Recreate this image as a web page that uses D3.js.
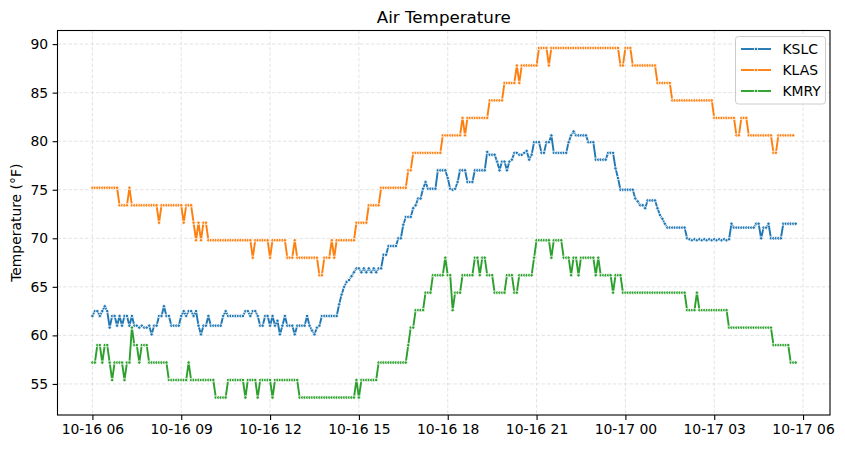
<!DOCTYPE html>
<html><head><meta charset="utf-8">
<script src="https://cdn.jsdelivr.net/npm/d3@7"></script>
<style>body{margin:0;background:#fff;} text{font-family:"DejaVu Sans",sans-serif;}</style>
</head><body><svg id="c" width="845" height="449"></svg>
<script>
// ---- data ----
const seriesNames = ["KSLC", "KLAS", "KMRY"];
const seriesColors = ["#1f77b4", "#ff7f0e", "#2ca02c"];
const startYear = 2024, startMonth = 9, startDay = 16, startHour = 6; // 10-16 06:00
const stepMinutes = 5;
const yTicks = [55, 60, 65, 70, 75, 80, 85, 90];
const xTickHours = [0, 3, 6, 9, 12, 15, 18, 21, 24]; // hours after start

const kslc = [62.0,62.5,62.5,62.0,62.5,63.0,62.5,60.8,62.0,62.0,
61.0,62.0,61.0,62.0,62.0,61.0,62.0,61.0,61.0,60.8,
61.0,60.8,60.8,61.0,60.1,61.0,61.0,62.0,62.0,63.0,
62.0,62.0,61.0,61.0,61.0,61.0,62.0,62.5,62.0,62.5,
62.5,62.0,62.5,61.0,60.1,61.0,61.0,62.0,61.0,61.0,
61.0,61.0,61.0,62.0,62.5,62.0,62.0,62.0,62.0,62.0,
62.0,62.0,62.5,62.5,62.0,62.5,62.5,62.0,61.0,61.0,
62.0,62.0,61.0,62.0,61.0,61.5,60.1,61.0,62.0,61.0,
61.0,61.0,60.1,61.0,61.0,61.0,61.0,62.0,61.0,60.5,
60.1,60.8,61.0,62.0,62.0,62.0,62.0,62.0,62.0,62.0,
63.2,64.2,65.0,65.5,65.7,66.1,66.5,66.9,66.9,66.5,
66.9,66.5,66.9,66.5,66.9,66.5,66.9,66.9,68.3,68.3,
69.2,69.2,69.2,69.2,70.0,70.0,71.4,72.2,72.2,72.2,
73.1,73.4,74.1,74.1,75.1,75.8,75.1,75.1,75.1,75.1,
77.0,77.0,77.0,77.0,76.2,75.1,75.0,75.1,75.8,77.0,
77.0,77.0,75.8,75.8,75.8,77.0,77.0,77.0,77.0,77.0,
78.9,78.6,78.6,78.6,77.9,77.0,77.9,77.9,77.0,77.9,
78.1,78.8,78.8,78.6,78.6,78.8,79.0,78.1,78.6,79.9,
79.9,79.9,78.8,78.8,79.9,79.9,80.6,78.8,78.8,78.8,
78.8,78.8,78.8,79.9,80.6,81.0,80.6,80.6,80.6,80.6,
80.6,79.9,79.9,79.9,78.1,78.1,78.1,78.1,78.1,78.8,
78.8,78.8,77.2,76.2,75.0,75.0,75.0,75.0,75.0,75.0,
74.1,73.8,73.4,73.4,73.1,73.9,73.9,73.9,73.9,73.1,
72.4,72.0,71.5,71.1,71.1,71.1,71.1,71.1,71.1,71.1,
71.1,70.0,69.9,69.8,69.9,69.8,69.9,69.8,69.9,69.8,
69.9,69.8,69.9,69.8,69.9,69.8,69.9,69.8,69.9,71.5,
71.1,71.1,71.1,71.1,71.1,71.1,71.1,71.1,71.1,71.5,
71.5,70.0,71.1,71.1,71.5,70.0,70.0,70.0,70.0,70.0,
71.5,71.5,71.5,71.5,71.5,71.5];

const klas = [75.2,75.2,75.2,75.2,75.2,75.2,75.2,75.2,75.2,75.2,
75.2,73.4,73.4,73.4,73.4,75.2,73.4,73.4,73.4,73.4,
73.4,73.4,73.4,73.4,73.4,73.4,73.4,71.6,73.4,73.4,
73.4,73.4,73.4,73.4,73.4,73.4,73.4,71.6,73.4,73.4,
73.4,71.6,69.8,71.6,69.8,71.6,71.6,69.8,69.8,69.8,
69.8,69.8,69.8,69.8,69.8,69.8,69.8,69.8,69.8,69.8,
69.8,69.8,69.8,69.8,69.8,68.0,69.8,69.8,69.8,69.8,
69.8,69.8,68.0,69.8,69.8,69.8,69.8,69.8,69.8,68.0,
68.0,68.0,69.8,68.0,68.0,68.0,68.0,68.0,68.0,68.0,
68.0,68.0,66.2,66.2,68.0,68.0,68.0,69.8,68.0,69.8,
69.8,69.8,69.8,69.8,69.8,69.8,69.8,71.6,71.6,71.6,
71.6,71.6,73.4,73.4,73.4,73.4,73.4,75.2,75.2,75.2,
75.2,75.2,75.2,75.2,75.2,75.2,75.2,75.2,77.0,77.0,
78.8,78.8,78.8,78.8,78.8,78.8,78.8,78.8,78.8,78.8,
78.8,78.8,80.6,80.6,80.6,80.6,80.6,80.6,80.6,80.6,
82.4,80.6,82.4,82.4,82.4,82.4,82.4,82.4,82.4,82.4,
82.4,84.2,84.2,84.2,84.2,84.2,84.2,86.0,86.0,86.0,
86.0,86.0,87.8,86.0,87.8,87.8,87.8,87.8,87.8,87.8,
87.8,89.6,89.6,89.6,89.6,87.8,89.6,89.6,89.6,89.6,
89.6,89.6,89.6,89.6,89.6,89.6,89.6,89.6,89.6,89.6,
89.6,89.6,89.6,89.6,89.6,89.6,89.6,89.6,89.6,89.6,
89.6,89.6,89.6,89.6,87.8,87.8,89.6,89.6,89.6,87.8,
87.8,87.8,87.8,87.8,87.8,87.8,87.8,87.8,87.8,86.0,
86.0,86.0,86.0,86.0,86.0,84.2,84.2,84.2,84.2,84.2,
84.2,84.2,84.2,84.2,84.2,84.2,84.2,84.2,84.2,84.2,
84.2,84.2,82.4,82.4,82.4,82.4,82.4,82.4,82.4,82.4,
82.4,80.6,80.6,82.4,82.4,82.4,80.6,80.6,80.6,80.6,
80.6,80.6,80.6,80.6,80.6,80.6,78.8,78.8,80.6,80.6,
80.6,80.6,80.6,80.6,80.6];

const kmry = [57.2,57.2,59.0,59.0,57.2,59.0,59.0,57.2,55.4,57.2,
57.2,57.2,57.2,55.4,57.2,57.2,60.8,59.0,59.0,57.2,
59.0,59.0,59.0,57.2,57.2,57.2,57.2,57.2,57.2,57.2,
57.2,55.4,55.4,55.4,55.4,55.4,55.4,55.4,55.4,57.2,
55.4,55.4,55.4,55.4,55.4,55.4,55.4,55.4,55.4,55.4,
53.6,53.6,53.6,53.6,53.6,55.4,55.4,55.4,55.4,55.4,
55.4,55.4,53.6,55.4,55.4,55.4,55.4,53.6,55.4,55.4,
55.4,55.4,55.4,53.6,55.4,55.4,55.4,55.4,55.4,55.4,
55.4,55.4,55.4,55.4,53.6,53.6,53.6,53.6,53.6,53.6,
53.6,53.6,53.6,53.6,53.6,53.6,53.6,53.6,53.6,53.6,
53.6,53.6,53.6,53.6,53.6,53.6,53.6,55.4,53.6,55.4,
55.4,55.4,55.4,55.4,55.4,55.4,57.2,57.2,57.2,57.2,
57.2,57.2,57.2,57.2,57.2,57.2,57.2,57.2,59.0,60.8,
60.8,62.6,62.6,62.6,62.6,64.4,64.4,64.4,66.2,66.2,
66.2,66.2,66.2,68.0,66.2,66.2,62.6,64.4,64.4,64.4,
66.2,66.2,66.2,66.2,66.2,68.0,68.0,66.2,68.0,68.0,
66.2,66.2,66.2,64.4,64.4,64.4,64.4,64.4,66.2,66.2,
66.2,64.4,64.4,66.2,66.2,66.2,66.2,66.2,66.2,68.0,
69.8,69.8,69.8,69.8,69.8,69.8,68.0,69.8,69.8,69.8,
69.8,68.0,68.0,68.0,66.2,68.0,68.0,66.2,68.0,68.0,
68.0,68.0,68.0,68.0,66.2,68.0,66.2,66.2,66.2,66.2,
66.2,64.4,66.2,66.2,66.2,64.4,64.4,64.4,64.4,64.4,
64.4,64.4,64.4,64.4,64.4,64.4,64.4,64.4,64.4,64.4,
64.4,64.4,64.4,64.4,64.4,64.4,64.4,64.4,64.4,64.4,
64.4,62.6,62.6,62.6,62.6,64.4,62.6,62.6,62.6,62.6,
62.6,62.6,62.6,62.6,62.6,62.6,62.6,62.6,60.8,60.8,
60.8,60.8,60.8,60.8,60.8,60.8,60.8,60.8,60.8,60.8,
60.8,60.8,60.8,60.8,60.8,60.8,59.0,59.0,59.0,59.0,
59.0,59.0,59.0,57.2,57.2,57.2];

const seriesValues = [kslc, klas, kmry];

// ---- chart ----
const svg = d3.select("#c");
const L = 57.5, R = 830, T = 30.5, B = 415;
const HOUR = 3600e3;
const t0 = new Date(startYear, startMonth, startDay, startHour, 0, 0);
const timeAt = i => new Date(+t0 + i * stepMinutes * 60e3);

const x = d3.scaleTime()
  .domain([new Date(+t0 - 1.179 * HOUR), new Date(+t0 + 24.91 * HOUR)])
  .range([L, R]);
const y = d3.scaleLinear().domain([51.8, 91.4]).range([B, T]);
const xTicks = xTickHours.map(h => new Date(+t0 + h * HOUR));

svg.append("rect").attr("width", 845).attr("height", 449).attr("fill", "#fff");

// grid
const grid = svg.append("g").attr("stroke", "#dcdcdc").attr("stroke-width", 0.8)
  .attr("stroke-dasharray", "3.5,2");
grid.selectAll(".gx").data(xTicks).join("line")
  .attr("x1", d => x(d)).attr("x2", d => x(d)).attr("y1", T).attr("y2", B);
grid.selectAll(".gy").data(yTicks).join("line")
  .attr("x1", L).attr("x2", R).attr("y1", d => y(d)).attr("y2", d => y(d));

// series
const plot = svg.append("g");
seriesValues.forEach((vals, k) => {
  const line = d3.line().x((d, i) => x(timeAt(i))).y(d => y(d));
  const g = plot.append("g");
  g.append("path").datum(vals).attr("d", line).attr("fill", "none")
    .attr("stroke", seriesColors[k]).attr("stroke-width", 1.9).attr("stroke-linejoin", "round");
  g.selectAll("circle").data(vals).join("circle")
    .attr("cx", (d, i) => x(timeAt(i))).attr("cy", d => y(d)).attr("r", 1.7)
    .attr("fill", seriesColors[k]).attr("stroke", "#fff").attr("stroke-width", 0.8);
});

// axes
const xAxis = d3.axisBottom(x).tickValues(xTicks).tickFormat(d3.timeFormat("%m-%d %H"))
  .tickSize(4.9).tickPadding(4.5).tickSizeOuter(0);
const gx = svg.append("g").attr("transform", `translate(0,${B})`).call(xAxis);
const yAxis = d3.axisLeft(y).tickValues(yTicks).tickFormat(d3.format("d"))
  .tickSize(4.9).tickPadding(4.5).tickSizeOuter(0);
const gy = svg.append("g").attr("transform", `translate(${L},0)`).call(yAxis);
[gx, gy].forEach(g => {
  g.select(".domain").remove();
  g.selectAll("line").attr("stroke", "#000").attr("stroke-width", 1.1);
  g.selectAll("text").attr("font-family", "DejaVu Sans").attr("font-size", 13.9).attr("fill", "#000");
});

// frame
svg.append("rect").attr("x", L).attr("y", T).attr("width", R - L).attr("height", B - T)
  .attr("fill", "none").attr("stroke", "#000").attr("stroke-width", 1.1);

// title and label
svg.append("text").attr("x", (L + R) / 2).attr("y", 23).attr("text-anchor", "middle")
  .attr("font-size", 16.7).text("Air Temperature");
svg.append("text").attr("transform", `translate(21,${(T + B) / 2}) rotate(-90)`)
  .attr("text-anchor", "middle").attr("font-size", 13.9).text("Temperature (°F)");

// legend
const lg = svg.append("g");
lg.append("rect").attr("x", 735.5).attr("y", 36.5).attr("width", 90).attr("height", 67.5)
  .attr("rx", 3).attr("fill", "#fff").attr("fill-opacity", 0.8).attr("stroke", "#cccccc").attr("stroke-width", 1);
seriesNames.forEach((name, k) => {
  const yy = 49 + k * 21;
  lg.append("line").attr("x1", 741).attr("x2", 771).attr("y1", yy).attr("y2", yy)
    .attr("stroke", seriesColors[k]).attr("stroke-width", 1.9);
  lg.append("circle").attr("cx", 756).attr("cy", yy).attr("r", 1.7)
    .attr("fill", seriesColors[k]).attr("stroke", "#fff").attr("stroke-width", 0.8);
  lg.append("text").attr("x", 782.5).attr("y", yy).attr("dy", "0.35em")
    .attr("font-size", 13.9).text(name);
});
</script>
</body></html>
